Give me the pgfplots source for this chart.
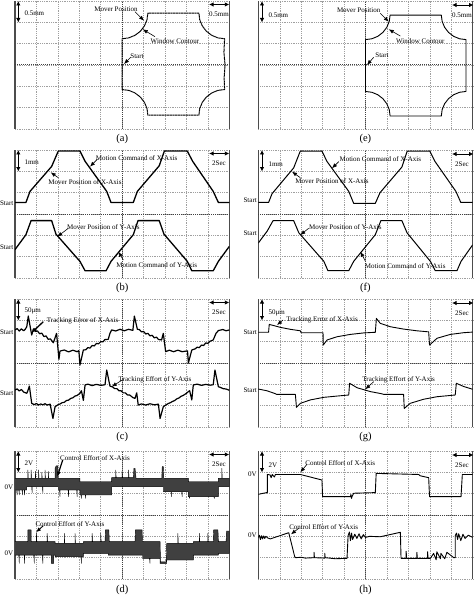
\documentclass[border=0pt]{standalone}
\usepackage{fontspec}
\setmainfont{Liberation Serif}
\usepackage{pgfplots}
\pgfplotsset{compat=1.18}
\usetikzlibrary{arrows.meta}

\pgfplotsset{
  osc/.style={width=214.3pt,height=128pt,scale only axis,anchor=north west,
    xmin=0,xmax=10,ymin=-3,ymax=3,xtick={0,...,10},ytick={-3,...,3},
    xticklabels={},yticklabels={},major tick length=0pt,tick style={draw=none},
    grid=major,grid style={gray!75,dash pattern=on 0.6pt off 1.2pt,line width=0.45pt},
    separate axis lines,x axis line style={draw=none},
    y axis line style={draw=gray!60!black,line width=1.6pt},
    extra x ticks={5},extra y ticks={0},extra x tick labels={},extra y tick labels={},
    extra tick style={grid=major,major tick length=0pt,
      grid style={black!75,dash pattern=on 1pt off 1pt,line width=1pt}}},
  trace/.style={black,line width=0.9pt,line join=round},
  band/.style={black,fill=black!75,line width=0.4pt,line join=round}}

\begin{document}
\begin{tikzpicture}
\useasboundingbox (0pt,0pt) rectangle (474pt,-596pt);

% (a) window contour, experiment 1
\begin{axis}[osc,at={(15pt,-1pt)}]
\addplot[trace,line width=1pt,dash pattern=on 1.2pt off 0.4pt] coordinates {
(5,0) (5,1.23) (5.311,1.271) (5.6,1.391) (5.849,1.581) (6.039,1.83) (6.159,2.119) (6.2,2.43)
(8.58,2.43) (8.621,2.119) (8.741,1.83) (8.931,1.581) (9.18,1.391) (9.469,1.271) (9.78,1.23)
(9.75,0.6) (9.8,0) (9.76,-0.6) (9.78,-1.15)
(9.469,-1.191) (9.18,-1.311) (8.931,-1.501) (8.741,-1.75) (8.621,-2.039) (8.58,-2.35)
(6.2,-2.35) (6.159,-2.039) (6.039,-1.75) (5.849,-1.501) (5.6,-1.311) (5.311,-1.191) (5,-1.15) (5,0)};
\end{axis}

% (e) window contour, experiment 2
\begin{axis}[osc,at={(258.3pt,-1pt)}]
\addplot[trace,line width=0.9pt] coordinates {
(5,0) (5,1.19) (5.298,1.229) (5.575,1.344) (5.813,1.527) (5.996,1.765) (6.111,2.042) (6.15,2.34)
(8.54,2.34) (8.579,2.042) (8.694,1.765) (8.877,1.527) (9.115,1.344) (9.392,1.229) (9.69,1.19)
(9.69,-1.24) (9.392,-1.279) (9.115,-1.394) (8.877,-1.577) (8.694,-1.815) (8.579,-2.092) (8.54,-2.39)
(6.15,-2.39) (6.111,-2.092) (5.996,-1.815) (5.813,-1.577) (5.575,-1.394) (5.298,-1.279) (5,-1.24) (5,0)};
\end{axis}

% (b) positions
\begin{axis}[osc,at={(15pt,-150pt)}]
\addplot[trace,line width=1.3pt] coordinates {
(0,0.54) (0.51,0.54) (0.7,1.06) (1.71,2.23) (2.02,2.95) (3.03,2.95) (3.27,2.47) (4.28,1.06) (4.48,0.54)
(5.52,0.54) (5.71,1.06) (6.73,2.26) (6.97,2.95) (8.04,2.95) (8.29,2.47) (9.25,1.06) (9.49,0.54) (10,0.54)};
\addplot[trace,line width=1.3pt] coordinates {
(0,-1.67) (0.51,-0.97) (0.75,-0.31) (1.71,-0.31) (1.91,-0.94) (3.03,-2.22) (3.27,-2.66) (4.25,-2.66)
(4.48,-2.22) (5.52,-0.97) (5.74,-0.31) (6.73,-0.31) (6.95,-0.94) (8.04,-2.22) (8.25,-2.66) (9.25,-2.66)
(9.49,-2.22) (10,-1.52)};
\end{axis}

% (f) positions
\begin{axis}[osc,at={(258.3pt,-150pt)}]
\addplot[trace,line width=1pt] coordinates {
(0,0.54) (0.48,0.54) (0.64,0.95) (1.65,2.16) (1.96,2.95) (2.97,2.95) (3.2,2.47) (4.22,1.06) (4.45,0.5)
(5.46,0.5) (5.68,1.0) (6.7,2.2) (6.95,2.95) (8.0,2.95) (8.24,2.47) (9.22,1.06) (9.45,0.54) (10,0.54)};
\addplot[trace,line width=1pt] coordinates {
(0,-1.36) (0.41,-0.81) (0.69,-0.31) (1.65,-0.31) (1.89,-0.88) (3.06,-2.22) (3.25,-2.66) (4.22,-2.66)
(4.45,-2.22) (5.46,-0.97) (5.72,-0.31) (6.7,-0.31) (6.94,-0.88) (8.03,-2.22) (8.26,-2.66) (9.27,-2.66)
(9.46,-2.22) (10,-1.45)};
\end{axis}

% (c) tracking errors, experiment 1
\begin{axis}[osc,at={(15pt,-299pt)}]
\addplot[trace,line width=1.2pt] coordinates {
(0,1.55) (0.1,1.61) (0.2,1.5) (0.3,1.6) (0.4,1.51) (0.47,1.57) (0.55,1.7) (0.62,2.2) (0.7,1.75) (0.78,1.31)
(0.86,1.6) (0.95,1.48) (1.05,1.5) (1.15,1.37) (1.25,1.4) (1.35,1.24) (1.45,1.27) (1.55,1.11) (1.65,1.13)
(1.79,0.95) (1.94,1.39) (2.05,0.17) (2.1,0.56) (2.3,0.61) (2.5,0.52) (2.7,0.6) (2.9,0.53) (2.98,0.58)
(3.03,-0.1) (3.19,0.61) (3.3,0.62) (3.4,0.72) (3.5,0.7) (3.6,0.82) (3.7,0.8) (3.8,0.92) (3.9,0.9) (4.0,1.0)
(4.1,0.99) (4.2,1.1) (4.35,1.11) (4.43,1.39) (4.51,1.55) (4.7,1.5) (4.9,1.58) (5.1,1.51) (5.3,1.58)
(5.5,1.53) (5.57,2.2) (5.71,1.58) (5.8,1.57) (5.9,1.46) (6.0,1.48) (6.1,1.36) (6.2,1.39) (6.3,1.27)
(6.4,1.3) (6.5,1.18) (6.6,1.21) (6.7,1.1) (6.84,1.08) (6.92,1.39) (7.03,0.53) (7.2,0.6) (7.4,0.53)
(7.6,0.6) (7.8,0.53) (8.05,0.57) (8.09,0.0) (8.25,0.61) (8.4,0.66) (8.5,0.74) (8.6,0.72) (8.7,0.84)
(8.8,0.82) (8.9,0.94) (9.0,0.92) (9.1,1.02) (9.25,1.08) (9.38,1.39) (9.49,1.52) (9.7,1.57) (9.85,1.51) (10,1.55)};
\addplot[trace,line width=1.2pt] coordinates {
(0,-1.27) (0.1,-1.21) (0.2,-1.31) (0.3,-1.24) (0.4,-1.36) (0.55,-1.42) (0.6,-1.3) (0.67,-1.08) (0.72,-1.45)
(0.78,-1.89) (0.9,-1.95) (1.0,-1.9) (1.1,-1.97) (1.2,-1.92) (1.3,-1.96) (1.4,-1.91) (1.5,-1.97) (1.64,-1.93)
(1.77,-2.6) (1.87,-2.05) (2.0,-1.96) (2.1,-1.92) (2.2,-1.86) (2.3,-1.84) (2.4,-1.76) (2.5,-1.74) (2.6,-1.66)
(2.7,-1.63) (2.8,-1.55) (2.9,-1.52) (3.03,-1.42) (3.1,-1.3) (3.19,-1.75) (3.27,-1.03) (3.4,-0.99) (3.6,-1.06)
(3.8,-1.0) (4.0,-1.05) (4.2,-1.02) (4.28,-0.33) (4.43,-1.08) (4.55,-1.12) (4.65,-1.2) (4.75,-1.2) (4.85,-1.3)
(4.95,-1.3) (5.05,-1.4) (5.15,-1.4) (5.25,-1.5) (5.35,-1.5) (5.5,-1.62) (5.6,-1.66) (5.68,-1.4) (5.75,-1.97)
(5.9,-1.92) (6.1,-1.97) (6.3,-1.91) (6.5,-1.96) (6.69,-1.93) (6.77,-2.6) (6.92,-2.05) (7.05,-1.96) (7.15,-1.9)
(7.25,-1.86) (7.35,-1.8) (7.45,-1.76) (7.55,-1.68) (7.65,-1.64) (7.75,-1.56) (7.85,-1.52) (8.0,-1.42)
(8.09,-1.34) (8.15,-1.3) (8.25,-1.73) (8.32,-1.03) (8.5,-0.99) (8.7,-1.05) (8.9,-1.0) (9.1,-1.04) (9.25,-1.02)
(9.33,-0.33) (9.49,-1.11) (9.6,-1.15) (9.7,-1.2) (9.85,-1.22) (10,-1.28)};
\end{axis}

% (g) tracking errors, experiment 2
\begin{axis}[osc,at={(258.3pt,-299pt)}]
\addplot[trace] coordinates {
(0,1.44) (0.48,1.44) (0.51,1.81) (0.7,1.76) (1.03,1.67) (1.49,1.58) (1.96,1.51) (2.0,1.42) (3.02,1.42)
(3.03,0.84) (3.21,1.08) (3.67,1.23) (4.29,1.34) (4.92,1.41) (5.46,1.44) (5.51,2.09) (5.69,1.86) (6.16,1.7)
(6.78,1.59) (7.4,1.51) (7.95,1.46) (7.99,0.84) (8.34,1.16) (8.96,1.34) (9.58,1.42) (10,1.45)};
\addplot[trace] coordinates {
(0,-1.22) (0.4,-1.3) (0.8,-1.44) (0.85,-1.47) (1.73,-1.47) (1.78,-2.08) (1.96,-1.89) (2.43,-1.73)
(3.05,-1.61) (3.67,-1.55) (4.22,-1.5) (4.26,-0.95) (4.61,-1.16) (5.23,-1.34) (5.75,-1.44) (5.85,-1.47)
(6.78,-1.47) (6.81,-2.13) (7.09,-1.89) (7.71,-1.7) (8.34,-1.58) (9.19,-1.5) (9.24,-0.95) (9.58,-1.1) (10,-1.23)};
\end{axis}

% (d) control efforts, experiment 1
\begin{axis}[osc,at={(15pt,-451pt)}]
\addplot[band] coordinates {
(0,1.72) (0.54,1.72) (0.6,1.72) (0.6,2.11) (0.62,1.72) (0.75,1.72) (0.75,2.11) (0.77,1.72) (0.95,1.72)
(0.95,2.05) (0.97,1.72) (1.1,1.72) (1.1,2.11) (1.12,1.72) (1.25,1.72) (1.25,2.0) (1.27,1.72) (1.4,1.72)
(1.4,2.11) (1.42,1.72) (1.55,1.72) (1.55,2.05) (1.57,1.72) (1.87,1.72) (1.87,2.2) (1.92,2.3) (2.0,2.3)
(2.02,1.72) (3.03,1.72) (3.03,1.56) (4.51,1.56) (4.51,1.75) (4.7,1.75) (4.7,2.11) (4.72,1.75) (5.0,1.75)
(5.0,2.05) (5.02,1.75) (5.3,1.75) (5.3,2.11) (5.32,1.75) (5.52,1.75) (5.55,2.19) (5.6,2.19) (5.65,1.72)
(6.85,1.72) (6.87,2.27) (6.92,2.27) (6.94,1.72) (8.09,1.72) (8.09,1.56) (9.49,1.56) (9.49,1.72) (9.65,1.72)
(9.65,2.19) (9.67,1.72) (10,1.72)
(10,1.33) (9.49,1.33) (9.49,0.86) (9.3,0.86) (9.3,0.78) (9.28,0.86) (8.15,0.86) (8.15,0.78) (8.13,0.86)
(8.09,0.86) (8.09,1.09) (7.8,1.09) (7.8,0.86) (7.78,1.09) (7.3,1.09) (7.3,0.86) (7.28,1.09) (6.92,1.09)
(6.92,1.33) (4.51,1.33) (4.51,0.94) (3.3,0.94) (3.3,0.78) (3.28,0.94) (3.1,0.94) (3.1,0.78) (3.08,0.94)
(3.03,0.94) (3.03,1.17) (2.9,1.17) (2.9,0.86) (2.88,1.17) (2.5,1.17) (2.5,0.86) (2.48,1.17) (2.1,1.17)
(2.1,0.86) (2.08,1.17) (2.02,1.17) (2.02,1.33) (1.3,1.33) (1.3,1.05) (1.28,1.33) (0.8,1.33) (0.8,1.05)
(0.78,1.33) (0.54,1.33) (0.54,1.17) (0.45,1.17) (0.45,0.94) (0.43,1.17) (0.35,1.17) (0.35,0.94) (0.33,1.17)
(0.2,1.17) (0.2,0.94) (0.18,1.17) (0.1,1.17) (0.1,0.94) (0.08,1.17) (0,1.17)};
\addplot[band] coordinates {
(0,-1.25) (0.6,-1.25) (0.6,-0.7) (0.75,-0.7) (0.75,-1.25) (1.0,-1.25) (1.0,-0.86) (1.02,-1.25) (1.5,-1.25)
(1.5,-0.86) (1.52,-1.25) (1.87,-1.25) (1.87,-1.33) (2.3,-1.33) (2.3,-0.86) (2.32,-1.33) (2.8,-1.33)
(2.8,-0.86) (2.82,-1.33) (3.19,-1.33) (3.19,-1.25) (3.6,-1.25) (3.6,-0.86) (3.62,-1.25) (4.0,-1.25)
(4.0,-0.86) (4.02,-1.25) (4.2,-1.25) (4.22,-0.7) (4.38,-0.7) (4.4,-1.25) (5.6,-1.25) (5.62,-0.7)
(5.93,-0.7) (5.95,-1.25) (6.77,-1.25) (6.79,-2.2) (7.06,-2.2) (7.08,-1.33) (7.6,-1.33) (7.6,-0.86)
(7.62,-1.33) (8.32,-1.33) (8.32,-1.25) (8.6,-1.25) (8.6,-0.86) (8.62,-1.25) (9.0,-1.25) (9.0,-0.86)
(9.02,-1.25) (9.25,-1.25) (9.27,-0.7) (9.47,-0.7) (9.49,-1.25) (9.85,-1.25) (9.87,-0.75) (10,-0.75)
(10,-1.8) (9.49,-1.8) (9.49,-1.88) (8.32,-1.88) (8.32,-2.11) (7.08,-2.11) (7.08,-2.27) (6.77,-2.27)
(6.77,-2.03) (6.3,-2.03) (6.3,-2.27) (6.28,-2.03) (5.95,-2.03) (5.95,-1.88) (4.35,-1.88) (4.35,-1.8)
(3.19,-1.8) (3.19,-1.95) (3.1,-1.95) (3.1,-2.27) (3.08,-1.95) (1.87,-1.95) (1.87,-1.88) (1.8,-1.88)
(1.8,-2.27) (1.7,-2.27) (1.7,-1.88) (1.3,-1.88) (1.3,-2.27) (1.28,-1.88) (0.9,-1.88) (0.9,-2.27)
(0.88,-1.88) (0.45,-1.88) (0.45,-2.27) (0.43,-1.88) (0.2,-1.88) (0.2,-2.27) (0.18,-1.88) (0,-1.88)};
\end{axis}

% (h) control efforts, experiment 2
\begin{axis}[osc,at={(258.3pt,-451pt)}]
\addplot[trace] coordinates {
(0,0.97) (0.39,1.05) (0.42,1.05) (0.42,1.9) (0.55,1.88) (0.6,1.75) (0.65,1.9) (0.75,1.78) (0.8,1.9)
(1.96,1.9) (2.97,1.64) (3.0,0.86) (4.3,0.86) (4.32,0.96) (4.35,0.78) (4.37,0.86) (4.45,1.02) (5.46,1.05)
(5.5,1.95) (7.49,1.9) (7.55,1.84) (7.95,1.75) (7.99,0.86) (9.46,0.86) (9.52,1.9) (10,1.9)};
\addplot[trace] coordinates {
(0,-1.06) (0.05,-0.95) (0.1,-1.15) (0.15,-0.97) (0.2,-1.12) (0.25,-0.98) (0.3,-1.1) (0.35,-1.0)
(0.45,-1.08) (0.56,-1.12) (1.42,-0.83) (1.7,-1.96) (1.75,-2.0) (2.0,-1.98) (2.2,-2.02) (2.6,-2.0)
(2.6,-1.75) (2.62,-2.0) (3.1,-2.02) (3.1,-1.8) (3.12,-2.0) (3.6,-2.05) (4.14,-2.03) (4.19,-0.97)
(4.25,-0.8) (4.3,-1.2) (4.35,-0.85) (4.4,-1.15) (4.5,-0.9) (4.6,-1.1) (4.7,-0.88) (4.8,-1.12) (4.9,-0.92)
(5.0,-1.05) (5.2,-1.0) (5.69,-1.02) (6.63,-0.81) (6.66,-2.03) (6.9,-2.03) (6.9,-1.7) (6.92,-2.03)
(7.4,-2.03) (7.4,-1.75) (7.42,-2.03) (7.9,-2.03) (7.9,-1.72) (7.92,-2.03) (8.03,-2.03) (8.18,-1.8)
(8.3,-2.1) (8.33,-1.72) (8.5,-2.05) (8.52,-1.8) (8.7,-2.05) (8.8,-1.75) (9.12,-2.0) (9.19,-2.0)
(9.19,-0.97) (9.25,-0.85) (9.3,-1.15) (9.35,-0.88) (9.45,-1.2) (9.55,-0.9) (9.65,-1.1) (9.8,-0.95) (10,-1.05)};
\end{axis}

\begin{scope}[x=1pt,y=-1pt,font=\fontsize{7}{8}\selectfont,
  ar/.style={-{Latex[length=5pt,width=4pt]},line width=0.6pt},
  sb/.style={{Latex[length=4.5pt,width=4.5pt]}-{Latex[length=4.5pt,width=4.5pt]},line width=0.9pt}]
% scale marks
\foreach \t/\u in {1/0.5mm,150/1mm,299/50μm,451/2V}{
  \draw[sb] (18.3,\t) -- (18.3,\t+21.5);
  \node[anchor=west] at (21,\t+12) {\u};
  \draw[sb] (262,\t) -- (262,\t+21.5);
  \node[anchor=west] at (265,\t+14) {\u};}
\foreach \t/\u in {1/0.5mm,150/2Sec,299/2Sec,451/2Sec}{
  \draw[sb] (209,\t+3.5) -- (229.3,\t+3.5);
  \node at (219,\t+13) {\u};
  \draw[sb] (452,\t+4) -- (473.5,\t+4);
  \node at (462,\t+14) {\u};}
% (a) and (e)
\node at (116,9.3) {Mover Position}; \draw[ar] (135,11.7) -- (144,20.7);
\node at (175,40.7) {Window Contour}; \draw[ar] (155,36.7) -- (142.7,29.3);
\node at (137,56) {Start}; \draw[ar] (130.7,57.3) -- (124,64);
\node at (358.7,10) {Mover Position}; \draw[ar] (380.3,13.3) -- (388.7,21.7);
\node at (420.3,40.7) {Window Contour}; \draw[ar] (400.3,36) -- (388.7,29.3);
\node at (382,55) {Start}; \draw[ar] (373.7,57.3) -- (367,65);
% (b) and (f)
\begin{scope}[every node/.append style={inner sep=0.5pt}]
\node[anchor=east] at (14,203.3) {Start}; \node[anchor=east] at (14,247) {Start};
\node[anchor=east] at (257.5,200) {Start}; \node[anchor=east] at (257.5,233.3) {Start};
\node[anchor=east] at (14,332.7) {Start}; \node[anchor=east] at (14,393.3) {Start};
\node[anchor=east] at (257.5,332.7) {Start}; \node[anchor=east] at (257.5,390) {Start};
\node[anchor=east] at (14,487.7) {0V}; \node[anchor=east] at (14,553.3) {0V};
\node[anchor=east] at (257.5,474.3) {0V}; \node[anchor=east] at (257.5,535) {0V};
\end{scope}
\node at (136.7,157.7) {Motion Command of X-Axis}; \draw[ar] (97.3,159.3) -- (90,166.7);
\node at (85,181.7) {Mover Position of X-Axis}; \draw[ar] (58.3,177.7) -- (50.7,172.3);
\node at (103.3,226.7) {Mover Position of Y-Axis}; \draw[ar] (68.3,228.3) -- (57.3,236.7);
\node at (156.7,265) {Motion Command of Y-Axis}; \draw[ar] (123.3,260) -- (118.3,251.7);
\node at (380.3,159) {Motion Command of X-Axis}; \draw[ar] (338.7,161.7) -- (332,168.3);
\node at (332,181) {Mover Position of X-Axis}; \draw[ar] (300.3,177.7) -- (292,171.7);
\node at (345.3,226.7) {Mover Position of Y-Axis}; \draw[ar] (308.7,228.3) -- (300.3,235);
\node at (405.3,265.7) {Motion Command of Y-Axis}; \draw[ar] (365.3,261) -- (360.3,251.7);
% (c) and (g)
\node at (82.7,320.7) {Tracking Error of X-Axis}; \draw[ar,line width=1.3pt] (43.3,321.7) -- (31.7,332.7);
\node at (155,380) {Tracking Effort of Y-Axis}; \draw[ar] (123.3,379.3) -- (111.7,386.7);
\node at (322,319.3) {Tracking Error of X-Axis}; \draw[ar] (283,320) -- (277,325);
\node at (398.7,380) {Tracking Effort of Y-Axis}; \draw[ar] (373.7,381.7) -- (365.3,389.3);
% (d) and (h)
\node at (95,458.3) {Control Effort of X-Axis}; \draw[ar,line width=1.2pt] (62.7,460) -- (57.3,476.7);
\node at (70,524.3) {Control Effort of Y-Axis}; \draw[ar,line width=0.9pt] (43.3,525.7) -- (36,532.3);
\node at (340.3,463.3) {Control Effort of X-Axis}; \draw[ar] (307,464.3) -- (300.3,472.3);
\node at (323.7,526.7) {Control Effort of Y-Axis}; \draw[ar] (298.7,528.3) -- (291,534.3);
% captions
\foreach \c/\x/\y in {a/122.2/139,b/122.2/288,c/122.2/437,d/122.2/590,
                      e/365.4/139,f/365.4/288,g/365.4/437,h/365.4/590}{
  \node[font=\fontsize{10.5}{12}\selectfont] at (\x,\y) {(\c)};}
\end{scope}
\end{tikzpicture}
\end{document}
